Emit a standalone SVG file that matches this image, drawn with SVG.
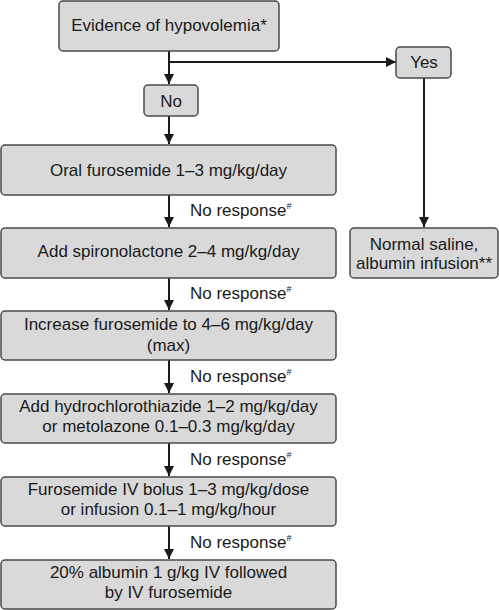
<svg xmlns="http://www.w3.org/2000/svg" width="499" height="610" viewBox="0 0 499 610">
<style>
.box{fill:#d9d9d9;stroke:#4a4a4a;stroke-width:1.5}
.t{font-family:"Liberation Sans",Arial,sans-serif;font-size:17px;fill:#1a1a1a;text-anchor:middle}
.l{font-family:"Liberation Sans",Arial,sans-serif;font-size:17px;fill:#1a1a1a}
.sup{font-size:9px}
.c{stroke:#1a1a1a;stroke-width:2;fill:none}
</style>
<defs>
<marker id="ah" viewBox="0 0 10 10" refX="10" refY="5" markerWidth="10" markerHeight="10" markerUnits="userSpaceOnUse" orient="auto">
<path d="M0,0 L10,5 L0,10 Z" fill="#1a1a1a"/>
</marker>
</defs>
<g id="connectors">
<path class="c" d="M169,51 V84" marker-end="url(#ah)"/>
<path class="c" d="M169,62 H396" marker-end="url(#ah)"/>
<path class="c" d="M169,116 V144" marker-end="url(#ah)"/>
<path class="c" d="M424,78 V227" marker-end="url(#ah)"/>
<path class="c" d="M169,195 V227" marker-end="url(#ah)"/>
<path class="c" d="M169,278 V310" marker-end="url(#ah)"/>
<path class="c" d="M169,360 V393" marker-end="url(#ah)"/>
<path class="c" d="M169,443 V476" marker-end="url(#ah)"/>
<path class="c" d="M169,526 V559" marker-end="url(#ah)"/>
<text class="l" x="190" y="216">No response<tspan class="sup" dy="-7">#</tspan></text>
<text class="l" x="190" y="299">No response<tspan class="sup" dy="-7">#</tspan></text>
<text class="l" x="190" y="382">No response<tspan class="sup" dy="-7">#</tspan></text>
<text class="l" x="190" y="465">No response<tspan class="sup" dy="-7">#</tspan></text>
<text class="l" x="190" y="548">No response<tspan class="sup" dy="-7">#</tspan></text>
</g>
<g id="n_hypovolemia">
<rect class="box" x="59" y="1" width="220" height="50" rx="4"/>
<text class="t" x="169" y="31">Evidence of hypovolemia*</text>
</g>
<g id="n_yes">
<rect class="box" x="396" y="47" width="55" height="31" rx="4"/>
<text class="t" x="424" y="68">Yes</text>
</g>
<g id="n_no">
<rect class="box" x="144" y="85" width="54" height="31" rx="4"/>
<text class="t" x="171" y="107">No</text>
</g>
<g id="n_oral">
<rect class="box" x="1" y="145" width="335" height="50" rx="4"/>
<text class="t" x="168.5" y="176">Oral furosemide 1–3 mg/kg/day</text>
</g>
<g id="n_saline">
<rect class="box" x="350" y="228" width="148" height="50" rx="4"/>
<text class="t" x="424" y="250">Normal saline,</text>
<text class="t" x="424" y="269">albumin infusion**</text>
</g>
<g id="n_spiro">
<rect class="box" x="1" y="228" width="335" height="50" rx="4"/>
<text class="t" x="168.5" y="257">Add spironolactone 2–4 mg/kg/day</text>
</g>
<g id="n_increase">
<rect class="box" x="1" y="311" width="335" height="49" rx="4"/>
<text class="t" x="168.5" y="330">Increase furosemide to 4–6 mg/kg/day</text>
<text class="t" x="168.5" y="351">(max)</text>
</g>
<g id="n_hydro">
<rect class="box" x="1" y="394" width="335" height="49" rx="4"/>
<text class="t" x="168.5" y="412">Add hydrochlorothiazide 1–2 mg/kg/day</text>
<text class="t" x="168.5" y="432">or metolazone 0.1–0.3 mg/kg/day</text>
</g>
<g id="n_iv">
<rect class="box" x="1" y="477" width="335" height="49" rx="4"/>
<text class="t" x="168.5" y="495">Furosemide IV bolus 1–3 mg/kg/dose</text>
<text class="t" x="168.5" y="515">or infusion 0.1–1 mg/kg/hour</text>
</g>
<g id="n_albumin">
<rect class="box" x="1" y="560" width="335" height="49" rx="4"/>
<text class="t" x="168.5" y="578">20% albumin 1 g/kg IV followed</text>
<text class="t" x="168.5" y="598">by IV furosemide</text>
</g>
</svg>
